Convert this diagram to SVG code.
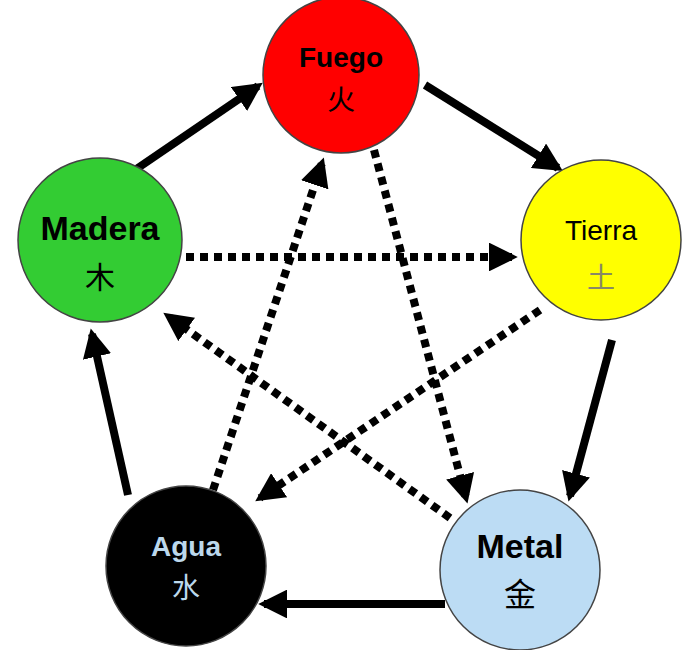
<svg xmlns="http://www.w3.org/2000/svg" width="690" height="650" viewBox="0 0 690 650">
<style>
.n{stroke:#444;stroke-width:1.5}
.t{font-family:"Liberation Sans",Arial,sans-serif;font-weight:bold;text-anchor:middle}
.c{font-family:"Noto Sans CJK SC",sans-serif;text-anchor:middle}
.s{stroke:#000;stroke-width:8;fill:none}
.d{stroke:#000;stroke-width:8;fill:none;stroke-dasharray:8 6}
</style>
<defs>
<marker id="a" viewBox="0 0 10 10" refX="8" refY="5" markerWidth="3.6" markerHeight="3.6" orient="auto" markerUnits="strokeWidth"><path d="M0,0L10,5L0,10z" fill="#000"/></marker>
</defs>
<rect width="690" height="650" fill="#fff"/>
<g id="connectors">
<line class="s" x1="132" y1="172" x2="258" y2="86" marker-end="url(#a)"/>
<line class="s" x1="425" y1="85" x2="558" y2="168" marker-end="url(#a)"/>
<line class="s" x1="612" y1="340" x2="570" y2="496" marker-end="url(#a)"/>
<line class="s" x1="445" y1="604" x2="264" y2="604" marker-end="url(#a)"/>
<line class="s" x1="128" y1="495" x2="92" y2="334" marker-end="url(#a)"/>
<line class="d" x1="186" y1="257" x2="512" y2="257" marker-end="url(#a)"/>
<line class="d" x1="374" y1="150" x2="466" y2="498" marker-end="url(#a)"/>
<line class="d" x1="540" y1="310" x2="260" y2="498" marker-end="url(#a)"/>
<line class="d" x1="450" y1="518" x2="168" y2="316" marker-end="url(#a)"/>
<line class="d" x1="213" y1="490" x2="322" y2="163" marker-end="url(#a)"/>
</g>
<g id="fuego"><circle class="n" cx="341" cy="75" r="78" fill="#f00"/><text class="t" x="341" y="67" font-size="28">Fuego</text><text class="c" x="341" y="110" font-size="28">火</text></g>
<g id="madera"><circle class="n" cx="100" cy="240" r="82" fill="#3c3"/><text class="t" x="100" y="240" font-size="34">Madera</text><text class="c" x="100" y="288" font-size="30">木</text></g>
<g id="tierra"><circle class="n" cx="601" cy="240" r="80" fill="#ff0"/><text class="t" x="601" y="240" font-size="28" style="font-weight:normal">Tierra</text><text class="c" x="601" y="288" font-size="28" fill="#886">土</text></g>
<g id="agua"><circle class="n" cx="186" cy="566" r="80" fill="#000"/><text class="t" x="186" y="556" font-size="28" fill="#bcd8ec">Agua</text><text class="c" x="186" y="598" font-size="28" fill="#bcd8ec">水</text></g>
<g id="metal"><circle class="n" cx="520" cy="570" r="80" fill="#bcdcf4"/><text class="t" x="520" y="558" font-size="34">Metal</text><text class="c" x="520" y="606" font-size="32">金</text></g>
</svg>
